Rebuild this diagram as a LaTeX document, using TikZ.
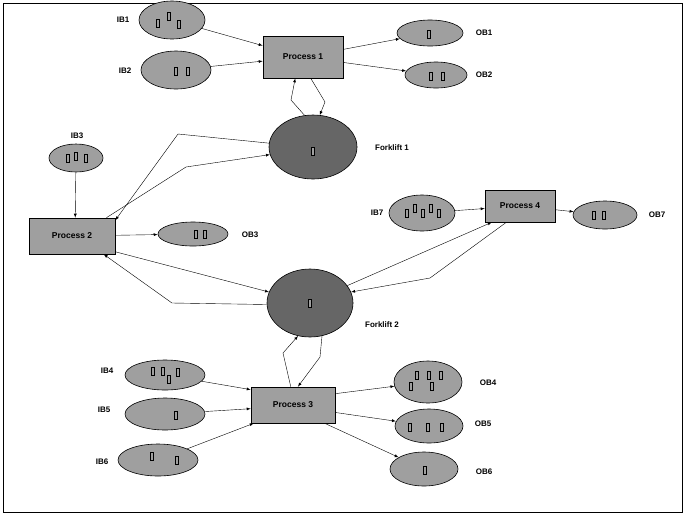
\documentclass[tikz,border=0pt]{standalone}
\usepackage{fontspec}
\setmainfont{Liberation Sans}
\begin{document}
\begin{tikzpicture}[x=1pt,y=-1pt,
 el/.style={ellipse,draw=black,fill=gray!75,inner sep=0,minimum width=#1},
 fk/.style={ellipse,draw=black,fill=gray!100!black!60,inner sep=0},
 pr/.style={rectangle,draw=black,fill=gray!75,inner sep=0,font=\bfseries\fontsize{8.5}{10}\selectfont},
 lb/.style={font=\bfseries\fontsize{8}{10}\selectfont},
 ar/.style={-latex,thin},
 line width=0.6pt]
\usetikzlibrary{shapes.geometric}
\useasboundingbox (0,0) rectangle (685,515);
\draw[line width=0.8pt] (3,3) rectangle (682,512);
\newcommand\tok[2]{\draw[line width=0.5pt,fill=gray!75] (#1-1.5,#2-4) rectangle (#1+1.5,#2+4);}
% nodes
\node[el=66pt,minimum height=38pt] (ib1) at (172,20) {};
\node[el=70pt,minimum height=38pt] (ib2) at (176,70) {};
\node[pr,minimum width=80pt,minimum height=42pt] (p1) at (303,57) {Process 1};
\node[el=66pt,minimum height=26pt] (ob1) at (430,33) {};
\node[el=62pt,minimum height=26pt] (ob2) at (436,75) {};
\node[fk,minimum width=88pt,minimum height=64pt,fill=gray!80!black] (f1) at (313,147) {};
\node[el=54pt,minimum height=28pt] (ib3) at (76,158) {};
\node[pr,minimum width=86pt,minimum height=36pt] (p2) at (72,236) {Process 2};
\node[el=70pt,minimum height=24pt] (ob3) at (193,234) {};
\node[el=66pt,minimum height=36pt] (ib7) at (422,213) {};
\node[pr,minimum width=70pt,minimum height=32pt] (p4) at (520,206) {Process 4};
\node[el=64pt,minimum height=28pt] (ob7) at (605,215) {};
\node[fk,minimum width=86pt,minimum height=68pt,fill=gray!80!black] (f2) at (310,303) {};
\node[el=80pt,minimum height=30pt] (ib4) at (165,375) {};
\node[el=80pt,minimum height=32pt] (ib5) at (165,414) {};
\node[el=80pt,minimum height=32pt] (ib6) at (158,460) {};
\node[pr,minimum width=84pt,minimum height=36pt] (p3) at (293,405) {Process 3};
\node[el=68pt,minimum height=42pt] (ob4) at (428,382) {};
\node[el=68pt,minimum height=34pt] (ob5) at (429,426) {};
\node[el=68pt,minimum height=34pt] (ob6) at (424,469) {};
% labels
\node[lb] (l1) at (123,20) {IB1};
\node[lb] (l2) at (125,71) {IB2};
\node[lb] (l3) at (484,33) {OB1};
\node[lb] (l4) at (484,75) {OB2};
\node[lb] (l5) at (392,148) {Forklift 1};
\node[lb] (l6) at (77,136) {IB3};
\node[lb] (l7) at (250,235) {OB3};
\node[lb] (l8) at (377,213) {IB7};
\node[lb] (l9) at (657,215) {OB7};
\node[lb] (l10) at (382,325) {Forklift 2};
\node[lb] (l11) at (107,371) {IB4};
\node[lb] (l12) at (104,410) {IB5};
\node[lb] (l13) at (102,462) {IB6};
\node[lb] (l14) at (488,383) {OB4};
\node[lb] (l15) at (483,424) {OB5};
\node[lb] (l16) at (484,472) {OB6};
% tokens
\tok{158}{23}\tok{169}{16}\tok{179}{24}
\tok{176}{71}\tok{188}{71}
\tok{429}{34}
\tok{431}{76}\tok{443}{76}
\tok{313}{151}
\tok{68}{158}\tok{76}{156}\tok{86}{158}
\tok{196}{234}\tok{205}{234}
\tok{407}{213}\tok{415}{208}\tok{423}{213}\tok{431}{208}\tok{439}{213}
\tok{594}{215}\tok{604}{215}
\tok{310}{303}
\tok{153}{371}\tok{163}{371}\tok{169}{379}\tok{178}{372}
\tok{176}{415}
\tok{152}{456}\tok{177}{460}
\tok{417}{375}\tok{429}{375}\tok{441}{375}\tok{411}{386}\tok{432}{386}
\tok{410}{427}\tok{428}{427}\tok{442}{427}
\tok{425}{470}
% connectors
\coordinate (a1) at (178,134);
\coordinate (a2) at (186,167);
\coordinate (a3) at (291,100);
\coordinate (a4) at (325,102);
\coordinate (a5) at (172,303);
\coordinate (a6) at (430,278);
\coordinate (a7) at (283,353);
\coordinate (a8) at (320,357);
\draw[ar] (ib1) -- (p1);
\draw[ar] (ib2) -- (p1);
\draw[ar] (p1) -- (ob1);
\draw[ar] (p1) -- (ob2);
\draw[ar] (f1.105) -- (a3) -- (p1.250);
\draw[ar] (p1.290) -- (a4) -- (f1.78);
\draw[ar] (f1.175) -- (a1) -- (p2.20);
\draw[ar] (p2.28) -- (a2) -- (f1.190);
\draw[ar] (ib3) -- (p2.80);
\draw[ar] (p2) -- (ob3);
\draw[ar] (p2.-20) -- (f2.165);
\draw[ar] (f2.182) -- (a5) -- (p2.-30);
\draw[ar] (ib7) -- (p4);
\draw[ar] (p4) -- (ob7);
\draw[ar] (f2.25) -- (p4.210);
\draw[ar] (p4.230) -- (a6) -- (f2.15);
\draw[ar] (p3.97) -- (a7) -- (f2.250);
\draw[ar] (f2.290) -- (a8) -- (p3.75);
\draw[ar] (ib4) -- (p3.160);
\draw[ar] (ib5) -- (p3.185);
\draw[ar] (ib6) -- (p3.205);
\draw[ar] (p3.15) -- (ob4);
\draw[ar] (p3.-10) -- (ob5);
\draw[ar] (p3.-30) -- (ob6);
\end{tikzpicture}
\end{document}
